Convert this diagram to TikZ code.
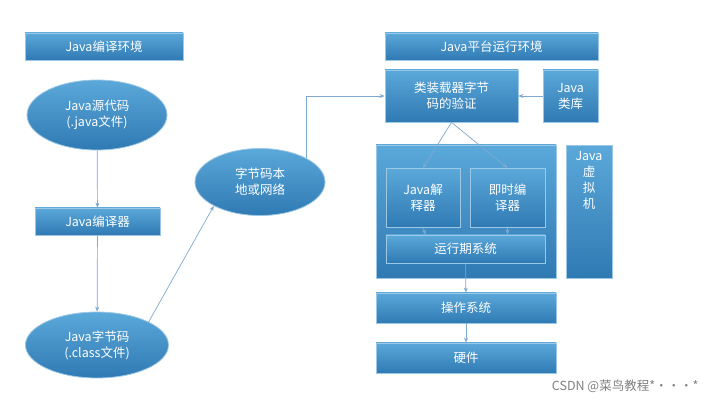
\documentclass[tikz,border=0pt]{standalone}
\usepackage{fontspec}
\setmainfont{Noto Sans CJK SC}
\usetikzlibrary{shapes.geometric,arrows.meta}
\definecolor{bt}{HTML}{5BA8DA}
\definecolor{bb}{HTML}{2F7AB3}
\definecolor{bd}{HTML}{9CC8E6}
\definecolor{ar}{HTML}{7FAAD0}
\tikzset{
  bx/.style={draw=bd,line width=0.8pt,top color=bt,bottom color=bb,text=white,font=\fontsize{12.5}{16}\selectfont,align=center,inner sep=0pt},
  el/.style={bx,ellipse},
  con/.style={draw=ar,line width=0.7pt,-{Stealth[length=5pt,width=4pt]}}
}
\begin{document}
\begin{tikzpicture}[x=1pt,y=-1pt]
\useasboundingbox[fill=white] (0,0) rectangle (713,406);
\node[bx,minimum width=158,minimum height=27] (env1) at (104,46.5) {Java编译环境};
\node[el,minimum width=140,minimum height=70] (src) at (97,115) {Java源代码\\(.java文件)};
\node[bx,minimum width=125,minimum height=27] (comp) at (97.5,221.5) {Java编译器};
\node[el,minimum width=143,minimum height=66] (cls) at (97,345) {Java字节码\\(.class文件)};
\node[el,minimum width=130,minimum height=67] (net) at (260,182) {字节码本\\地或网络};
\node[bx,minimum width=213,minimum height=27] (env2) at (491.5,46.5) {Java平台运行环境};
\node[bx,minimum width=133,minimum height=52] (load) at (451.5,96) {类装载器字节\\码的验证};
\node[bx,minimum width=55,minimum height=52] (lib) at (570.5,96) {Java\\类库};
\node[bx,minimum width=180,minimum height=133] (jvmbox) at (466,211.5) {};
\node[bx,minimum width=74,minimum height=59,anchor=north] (interp) at (423,168) {Java解\\释器};
\node[bx,minimum width=75,minimum height=59,anchor=north] (jit) at (507.5,168) {即时编\\译器};
\node[bx,minimum width=159,minimum height=28] (rt) at (465.5,249) {运行期系统};
\node[bx,minimum width=46,minimum height=133,anchor=north] (jvm) at (589,145) {};
\node[text=white,font=\fontsize{12.5}{16}\selectfont,align=center,anchor=north] (jvmt) at (589,148) {Java\\虚\\拟\\机};
\node[bx,minimum width=180,minimum height=30] (os) at (466,308) {操作系统};
\node[bx,minimum width=180,minimum height=30] (hw) at (466,358) {硬件};
\node[text=gray,font=\fontsize{12.5}{15}\selectfont,anchor=east] (wm) at (702,386) {CSDN @菜鸟教程*···*};
\draw[con] (src) -- (comp);
\draw[con] (comp) -- (cls);
\draw[con] ([yshift=-2pt]cls.north east) -- (net.south west);
\draw[con] (net.north east) |- (load.west);
\draw[con] (lib) -- (load);
\draw[con] (load.south) -- (interp.north);
\draw[con] (load.south) -- (jit.north);
\draw[con] (interp.south) -- ([xshift=-40pt]rt.north);
\draw[con] (jit.south) -- ([xshift=42pt]rt.north);
\draw[con] (rt) -- (os);
\draw[con] (os) -- (hw);
\end{tikzpicture}
\end{document}
